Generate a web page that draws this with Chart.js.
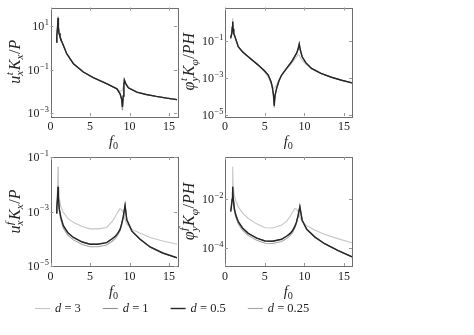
<!DOCTYPE html>
<html>
<head>
<meta charset="utf-8">
<script src="https://cdn.jsdelivr.net/npm/chart.js@4.4.0/dist/chart.umd.min.js"></script>
<style>
  body { margin: 0; background: #fff; }
  #wrap { position: relative; width: 474px; height: 335px; }
  #wrap canvas { position: absolute; left: 0; top: 0; }
</style>
</head>
<body>
<div id="wrap">
  <canvas id="ux-total" width="474" height="335"></canvas>
  <canvas id="phi-total" width="474" height="335"></canvas>
  <canvas id="ux-found" width="474" height="335"></canvas>
  <canvas id="phi-found" width="474" height="335"></canvas>
</div>
<script>
// damping ratios in the legend
var dValues = ['3', '1', '0.5', '0.25'];
var f0Ticks = [0, 5, 10, 15];

// total horizontal displacement
var f0UxTotal = [0.7, 0.8, 0.88, 0.95, 1.0, 1.08, 1.2, 1.4, 1.62, 2.05, 2.9, 4.15, 5.4, 7.1, 8.4, 8.8, 9.0, 9.1, 9.2, 9.28, 9.34, 9.5, 9.85, 10.9, 12.1, 13.4, 14.7, 16];
var uxTotal_d3 = [1.9, 3.55, 8.5, 29, 9.5, 4.8, 3.3, 2.1, 1.35, 0.55, 0.19, 0.079, 0.044, 0.023, 0.013, 0.0107, 0.0105, 0.0126, 0.0166, 0.021, 0.024, 0.022, 0.015, 0.0095, 0.0074, 0.006, 0.005, 0.0043];
var uxTotal_d1 = [1.9, 3.55, 8.0, 26, 9.0, 4.8, 3.3, 2.1, 1.35, 0.55, 0.19, 0.079, 0.044, 0.023, 0.0135, 0.0078, 0.004, 0.0014, 0.006, 0.02, 0.034, 0.024, 0.015, 0.0095, 0.0074, 0.006, 0.005, 0.0043];
var uxTotal_d05 = [1.9, 3.55, 7.9, 24, 8.9, 4.8, 3.3, 2.1, 1.35, 0.55, 0.19, 0.079, 0.044, 0.023, 0.0135, 0.0079, 0.0045, 0.002, 0.0063, 0.02, 0.034, 0.024, 0.015, 0.0095, 0.0074, 0.006, 0.005, 0.0043];
var uxTotal_d025 = [1.9, 3.55, 7.9, 25, 8.9, 4.8, 3.3, 2.1, 1.35, 0.55, 0.19, 0.079, 0.044, 0.023, 0.0135, 0.0079, 0.0044, 0.0017, 0.0062, 0.02, 0.035, 0.024, 0.015, 0.0095, 0.0074, 0.006, 0.005, 0.0043];
var uxTotalTicks = [1e1, 1e-1, 1e-3];

// total rocking
var f0PhiTotal = [0.7, 0.85, 0.92, 0.97, 1.02, 1.1, 1.26, 1.67, 2.2, 2.93, 4.19, 5.0, 5.45, 5.8, 5.95, 6.1, 6.2, 6.3, 6.5, 6.8, 7.13, 7.8, 8.39, 9.02, 9.2, 9.35, 9.5, 9.72, 10.2, 10.9, 12.1, 13.4, 14.7, 16];
var phiTotal_d3 = [0.141, 0.251, 0.6, 1.7, 0.5, 0.251, 0.17, 0.049, 0.0263, 0.0141, 0.005, 0.0021, 0.00112, 0.0005, 0.000355, 0.00028, 0.00028, 0.000316, 0.000447, 0.00079, 0.00132, 0.00316, 0.0063, 0.0141, 0.0178, 0.0174, 0.0126, 0.0089, 0.0056, 0.00316, 0.00178, 0.0011, 0.00076, 0.00055];
var phiTotal_d1 = [0.141, 0.251, 0.57, 1.2, 0.46, 0.251, 0.17, 0.049, 0.0263, 0.0141, 0.005, 0.0024, 0.00142, 0.00061, 0.00033, 0.00012, 0.00005, 0.000105, 0.00027, 0.0007, 0.00143, 0.0035, 0.0075, 0.021, 0.034, 0.06, 0.03, 0.014, 0.0066, 0.0033, 0.00178, 0.0011, 0.00076, 0.00055];
var phiTotal_d05 = [0.141, 0.251, 0.562, 1.1, 0.447, 0.251, 0.17, 0.049, 0.0263, 0.0141, 0.005, 0.0024, 0.00145, 0.00063, 0.00034, 0.000126, 0.0000316, 0.000112, 0.000275, 0.00071, 0.00145, 0.00355, 0.0076, 0.0219, 0.0355, 0.069, 0.0316, 0.0141, 0.0066, 0.0033, 0.00178, 0.0011, 0.00076, 0.00055];
var phiTotal_d025 = [0.141, 0.251, 0.56, 1.05, 0.44, 0.251, 0.17, 0.049, 0.0263, 0.0141, 0.005, 0.0024, 0.00146, 0.00064, 0.00035, 0.00013, 0.000025, 0.000115, 0.00028, 0.00072, 0.00146, 0.0036, 0.0077, 0.0222, 0.036, 0.072, 0.032, 0.0142, 0.0066, 0.0033, 0.00178, 0.0011, 0.00076, 0.00055];
var phiTotalTicks = [1e-1, 1e-3, 1e-5];

// foundation horizontal displacement
var f0UxFound = [0.7, 0.8, 0.88, 0.95, 1.0, 1.11, 1.3, 1.62, 2.2, 2.89, 4.0, 5.0, 6.0, 7.11, 7.8, 8.16, 8.5, 8.8, 9.0, 9.2, 9.43, 9.65, 10.3, 11.3, 12.6, 14.2, 16];
var uxFound_d3 = [8.9e-4, 2.0e-3, 6.3e-3, 4.4e-2, 7.9e-3, 2.95e-3, 1.58e-3, 9.3e-4, 5.6e-4, 4.0e-4, 2.8e-4, 2.3e-4, 2.3e-4, 2.6e-4, 4.3e-4, 6.2e-4, 9.5e-4, 1.26e-3, 1.17e-3, 9.3e-4, 5.2e-4, 3.5e-4, 2.2e-4, 1.62e-4, 1.12e-4, 8.3e-5, 6.3e-5];
var uxFound_d1 = [8.9e-4, 1.45e-3, 3.0e-3, 9.0e-3, 3.3e-3, 1.28e-3, 6.4e-4, 3.0e-4, 1.67e-4, 1.13e-4, 7.7e-5, 6.4e-5, 6.4e-5, 7.3e-5, 1.0e-4, 1.21e-4, 1.6e-4, 2.25e-4, 3.6e-4, 6.5e-4, 1.75e-3, 5.1e-4, 1.9e-4, 9.8e-5, 5.0e-5, 3.0e-5, 2.0e-5];
var uxFound_d05 = [8.9e-4, 1.41e-3, 2.8e-3, 7.9e-3, 3.2e-3, 1.26e-3, 6.3e-4, 3.0e-4, 1.66e-4, 1.12e-4, 7.6e-5, 6.3e-5, 6.3e-5, 7.2e-5, 1.0e-4, 1.2e-4, 1.58e-4, 2.2e-4, 3.5e-4, 6.3e-4, 1.66e-3, 5.0e-4, 1.9e-4, 9.8e-5, 5.0e-5, 3.0e-5, 2.0e-5];
var uxFound_d025 = [8.9e-4, 1.35e-3, 2.5e-3, 6.3e-3, 2.6e-3, 1.05e-3, 5.0e-4, 2.45e-4, 1.35e-4, 9.1e-5, 6.2e-5, 5.1e-5, 5.1e-5, 5.9e-5, 8.1e-5, 1.0e-4, 1.35e-4, 1.95e-4, 3.2e-4, 5.9e-4, 1.58e-3, 4.8e-4, 1.86e-4, 9.5e-5, 4.9e-5, 2.95e-5, 2.0e-5];
var uxFoundTicks = [1e-1, 1e-3, 1e-5];

// foundation rocking
var f0PhiFound = [0.72, 0.8, 0.9, 0.97, 1.02, 1.17, 1.35, 1.67, 2.2, 2.93, 4.0, 5.03, 6.0, 7.13, 7.8, 8.18, 8.5, 8.8, 9.0, 9.2, 9.43, 9.72, 10.3, 11.3, 12.5, 14.2, 16];
var phiFound_d3 = [3.2e-3, 6.3e-3, 2.0e-2, 0.214, 4.0e-2, 1.51e-2, 8.9e-3, 5.0e-3, 2.8e-3, 1.66e-3, 1.0e-3, 6.9e-4, 6.8e-4, 8.9e-4, 1.32e-3, 1.95e-3, 3.0e-3, 4.3e-3, 4.0e-3, 3.2e-3, 1.9e-3, 1.26e-3, 8.3e-4, 5.6e-4, 3.8e-4, 2.5e-4, 1.7e-4];
var phiFound_d1 = [3.2e-3, 5.1e-3, 1.05e-2, 3.5e-2, 1.3e-2, 4.4e-3, 2.4e-3, 1.25e-3, 6.9e-4, 4.15e-4, 2.62e-4, 2.02e-4, 1.97e-4, 2.37e-4, 3.25e-4, 4.05e-4, 5.3e-4, 8.1e-4, 1.2e-3, 2.2e-3, 5.3e-3, 1.43e-3, 6.0e-4, 2.95e-4, 1.58e-4, 8.3e-5, 4.5e-5];
var phiFound_d05 = [3.2e-3, 5.0e-3, 1.0e-2, 3.2e-2, 1.26e-2, 4.3e-3, 2.35e-3, 1.23e-3, 6.8e-4, 4.1e-4, 2.6e-4, 2.0e-4, 1.95e-4, 2.35e-4, 3.2e-4, 4.0e-4, 5.2e-4, 7.9e-4, 1.17e-3, 2.1e-3, 5.0e-3, 1.41e-3, 6.0e-4, 2.95e-4, 1.58e-4, 8.3e-5, 4.5e-5];
var phiFound_d025 = [3.2e-3, 4.7e-3, 8.9e-3, 2.5e-2, 1.05e-2, 3.55e-3, 1.9e-3, 1.0e-3, 5.5e-4, 3.3e-4, 2.15e-4, 1.62e-4, 1.58e-4, 1.9e-4, 2.55e-4, 3.3e-4, 4.4e-4, 6.8e-4, 1.05e-3, 1.95e-3, 4.8e-3, 1.35e-3, 5.9e-4, 2.9e-4, 1.55e-4, 8.1e-5, 4.4e-5];
var phiFoundTicks = [1e-2, 1e-4];

var serif = '"Liberation Serif", "DejaVu Serif", serif';
var lineColors = ['#c6c6c6', '#8e8e8e', '#262626', '#a4a4a4'];
var lineWidths = [1.1, 1.1, 1.4, 1.1];
var drawOrder = [4, 3, 1, 2];   // the dark d = 0.5 curve is painted last

function fontSpec(size, italic) {
  return (italic ? 'italic ' : '') + size + 'px ' + serif;
}

// text runs with optional sub/superscript, e.g. {t:'u', i:true, sub:'x', sup:'t', si:true}
function richWidth(ctx, parts, size) {
  var w = 0;
  parts.forEach(function(p) {
    ctx.font = fontSpec(size, p.i);
    w += ctx.measureText(p.t).width;
    if (p.sub || p.sup) {
      ctx.font = fontSpec(size * 0.7, p.si);
      var a = p.sub ? ctx.measureText(p.sub).width : 0;
      var b = p.sup ? ctx.measureText(p.sup).width : 0;
      w += Math.max(a, b) + 0.5;
    }
  });
  return w;
}

function drawRich(ctx, parts, x, y, size, align) {
  var w = richWidth(ctx, parts, size);
  var cx = align === 'right' ? x - w : (align === 'center' ? x - w / 2 : x);
  ctx.textAlign = 'left';
  parts.forEach(function(p) {
    ctx.font = fontSpec(size, p.i);
    ctx.fillText(p.t, cx, y);
    cx += ctx.measureText(p.t).width;
    if (p.sub || p.sup) {
      ctx.font = fontSpec(size * 0.7, p.si);
      var a = 0, b = 0;
      if (p.sup) { ctx.fillText(p.sup, cx + 0.5, y - size * 0.42); b = ctx.measureText(p.sup).width; }
      if (p.sub) { ctx.fillText(p.sub, cx, y + size * 0.22); a = ctx.measureText(p.sub).width; }
      cx += Math.max(a, b) + 0.5;
    }
  });
  return w;
}

function drawLegend(chart) {
  var ctx = chart.ctx;
  var x = 35, y = 308;
  ctx.save();
  ctx.fillStyle = '#222';
  chart.data.datasets.forEach(function(ds) {
    ctx.strokeStyle = ds.borderColor;
    ctx.lineWidth = ds.borderWidth;
    ctx.beginPath();
    ctx.moveTo(x, y + 0.5);
    ctx.lineTo(x + 15, y + 0.5);
    ctx.stroke();
    var w = drawRich(ctx, [{t: 'd', i: true}, {t: ' = ' + ds.label}], x + 20, y + 4, 12.5, 'left');
    x += 20 + w + 22;
  });
  ctx.restore();
}

// pgfplots-like box, inward ticks, labels and titles
var pgfAxes = {
  id: 'pgfAxes',
  afterDraw: function(chart, args, opts) {
    var ctx = chart.ctx, a = chart.chartArea;
    var xs = chart.scales.x, ys = chart.scales.y;
    ctx.save();
    ctx.strokeStyle = '#6e6e6e';
    ctx.lineWidth = 1;
    ctx.strokeRect(Math.round(a.left) + 0.5, Math.round(a.top) + 0.5,
                   Math.round(a.right - a.left), Math.round(a.bottom - a.top));
    ctx.strokeStyle = '#9a9a9a';
    ctx.beginPath();
    opts.xTicks.forEach(function(v) {
      var px = Math.round(xs.getPixelForValue(v)) + 0.5;
      ctx.moveTo(px, a.bottom); ctx.lineTo(px, a.bottom - 3);
      ctx.moveTo(px, a.top); ctx.lineTo(px, a.top + 3);
    });
    opts.yTicks.forEach(function(v) {
      var py = Math.round(ys.getPixelForValue(v)) + 0.5;
      ctx.moveTo(a.left, py); ctx.lineTo(a.left + 3, py);
      ctx.moveTo(a.right, py); ctx.lineTo(a.right - 3, py);
    });
    ctx.stroke();

    ctx.fillStyle = '#222';
    ctx.textBaseline = 'alphabetic';
    opts.xTicks.forEach(function(v) {
      drawRich(ctx, [{t: String(v)}], xs.getPixelForValue(v), a.bottom + 13.5, 12, 'center');
    });
    opts.yTicks.forEach(function(v) {
      var e = Math.round(Math.log10(v));
      var sup = (e < 0 ? '\u2212' : '') + Math.abs(e);
      drawRich(ctx, [{t: '10', sup: sup}], a.left - 1.5, ys.getPixelForValue(v) + 4, 12, 'right');
    });

    drawRich(ctx, [{t: 'f', i: true, sub: '0'}], (a.left + a.right) / 2, a.bottom + 29.5, 14.5, 'center');

    ctx.translate(a.left - 36, (a.top + a.bottom) / 2);
    ctx.rotate(-Math.PI / 2);
    drawRich(ctx, opts.yTitle, 0, 5, 16, 'center');
    ctx.restore();

    if (opts.legend) drawLegend(chart);
  }
};

function makePanel(id, f0, series, yRange, yTicks, yTitle, box, legend) {
  var datasets = series.map(function(vals, k) {
    return {
      label: dValues[k],
      data: vals.map(function(v, i) { return {x: f0[i], y: v}; }),
      borderColor: lineColors[k],
      borderWidth: lineWidths[k],
      order: drawOrder[k],
      pointRadius: 0,
      tension: 0,
      fill: false
    };
  });
  new Chart(document.getElementById(id), {
    type: 'line',
    data: {datasets: datasets},
    options: {
      responsive: false,
      animation: false,
      events: [],
      layout: {padding: {left: box[0], top: box[1], right: 474 - box[2], bottom: 335 - box[3]}},
      scales: {
        x: {type: 'linear', display: false, min: 0, max: 16},
        y: {type: 'logarithmic', display: false, min: Math.pow(10, yRange[0]), max: Math.pow(10, yRange[1])}
      },
      plugins: {
        legend: {display: false},
        tooltip: {enabled: false},
        pgfAxes: {xTicks: f0Ticks, yTicks: yTicks, yTitle: yTitle, legend: legend}
      }
    },
    plugins: [pgfAxes]
  });
}

makePanel('ux-total', f0UxTotal, [uxTotal_d3, uxTotal_d1, uxTotal_d05, uxTotal_d025],
  [-3.12, 1.86], uxTotalTicks,
  [{t: 'u', i: true, sub: 'x', sup: 't', si: true}, {t: 'K', i: true, sub: 'x', si: true}, {t: '/'}, {t: 'P', i: true}],
  [50.5, 7.5, 177, 116], false);

makePanel('phi-total', f0PhiTotal, [phiTotal_d3, phiTotal_d1, phiTotal_d05, phiTotal_d025],
  [-5.05, 0.81], phiTotalTicks,
  [{t: '\u03c6', i: true, sub: 'y', sup: 't', si: true}, {t: 'K', i: true, sub: '\u03c6', si: true}, {t: '/'}, {t: 'PH', i: true}],
  [225, 7.5, 352, 116], false);

makePanel('ux-found', f0UxFound, [uxFound_d3, uxFound_d1, uxFound_d05, uxFound_d025],
  [-5.0, -1.0], uxFoundTicks,
  [{t: 'u', i: true, sub: 'x', sup: 'f', si: true}, {t: 'K', i: true, sub: 'x', si: true}, {t: '/'}, {t: 'P', i: true}],
  [50.5, 157, 177, 266], false);

makePanel('phi-found', f0PhiFound, [phiFound_d3, phiFound_d1, phiFound_d05, phiFound_d025],
  [-4.72, -0.27], phiFoundTicks,
  [{t: '\u03c6', i: true, sub: 'y', sup: 'f', si: true}, {t: 'K', i: true, sub: '\u03c6', si: true}, {t: '/'}, {t: 'PH', i: true}],
  [225, 157, 352, 266], true);
</script>
</body>
</html>
